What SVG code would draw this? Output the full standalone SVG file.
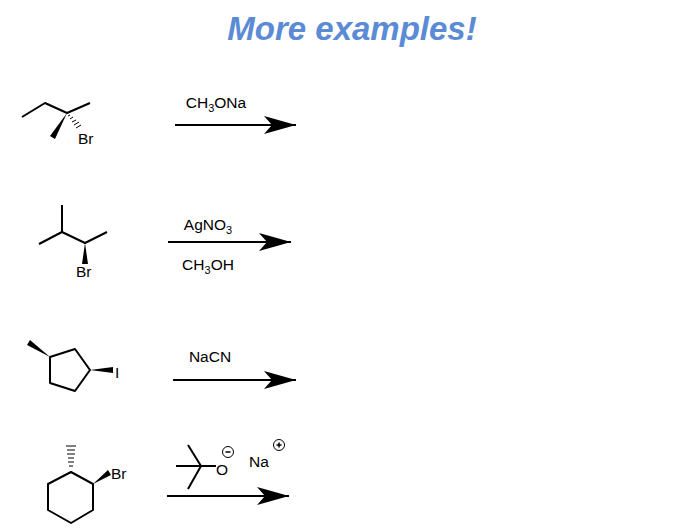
<svg xmlns="http://www.w3.org/2000/svg" width="700" height="531" viewBox="0 0 700 531">
<style>
.b{stroke:#000;stroke-width:2;fill:none;stroke-linejoin:round}
.t{font-family:"Liberation Sans",Arial,sans-serif;font-size:15.5px;fill:#000}
.s{font-size:11px}
.w{fill:#000}
</style>
<defs><marker id="ah" markerWidth="34" markerHeight="18" refX="32" refY="9" orient="auto" markerUnits="userSpaceOnUse"><path d="M0,0 L32,9 L0,18 L8,9 Z" fill="#000"/></marker></defs>
<rect width="700" height="531" fill="#fff"/>
<text x="352" y="40" text-anchor="middle" font-family="Liberation Sans,Arial,sans-serif" font-size="33" font-weight="bold" font-style="italic" fill="#5b8bd4">More examples!</text>
<g id="m1">
<polyline class="b" points="22,117 45,103 67,113 90,103"/>
<polygon class="w" points="67,113 50,136 55,139"/>
<path d="M68,116 l2,-1 M70,119 l3,-2 M72,122 l4,-2 M74,125 l5,-3 M76,128 l5,-3" stroke="#000" stroke-width="1"/>
<text class="t" x="78" y="144">Br</text>
</g>
<g id="m2">
<polyline class="b" points="39,244 62,232 85,243 107,232"/>
<line class="b" x1="62" y1="205" x2="62" y2="232"/>
<polygon class="w" points="85,243 82,264 88,264"/>
<text class="t" x="76" y="277">Br</text>
</g>
<g id="m3">
<polygon class="b" points="50,357 75,349 90,370 75,391 50,383"/>
<polygon class="w" points="50,357 27,345 30,340"/>
<polygon class="w" points="90,370 113,367 113,373"/>
<text class="t" x="115" y="378">I</text>
</g>
<g id="m4">
<polygon class="b" points="71,472 93,484 93,510 71,523 48,510 48,484"/>
<path d="M69,466 h4 M68,462 h6 M68,458 h6 M67,454 h8 M67,450 h8 M66,446 h10" stroke="#000" stroke-width="1"/>
<polygon class="w" points="93,484 108,470 111,475"/>
<text class="t" x="111" y="479">Br</text>
</g>
<g id="tbuo">
<polyline class="b" points="188,445 201,466 188,489"/>
<line class="b" x1="176" y1="466" x2="216" y2="466"/>
<text class="t" x="216" y="475">O</text>
<circle cx="228" cy="452" r="5.5" fill="none" stroke="#000" stroke-width="1"/>
<line x1="225.5" y1="452" x2="230.5" y2="452" stroke="#000" stroke-width="1.5"/>
<text class="t" x="249" y="467">Na</text>
<circle cx="279" cy="445" r="5.5" fill="none" stroke="#000" stroke-width="1"/>
<path d="M276.5,445 h5 M279,442.5 v5" stroke="#000" stroke-width="1.5"/>
</g>
<g id="connectors">
<line class="b" stroke-width="1.5" x1="175" y1="125" x2="296" y2="125" marker-end="url(#ah)"/>
<line class="b" stroke-width="1.5" x1="168" y1="242" x2="291" y2="242" marker-end="url(#ah)"/>
<line class="b" stroke-width="1.5" x1="173" y1="380" x2="296" y2="380" marker-end="url(#ah)"/>
<line class="b" stroke-width="1.5" x1="167" y1="496" x2="289" y2="496" marker-end="url(#ah)"/>
</g>
<g id="labels">
<text class="t" x="216" y="108" text-anchor="middle">CH<tspan class="s" dy="4">3</tspan><tspan dy="-4">ONa</tspan></text>
<text class="t" x="208" y="230" text-anchor="middle">AgNO<tspan class="s" dy="4">3</tspan></text>
<text class="t" x="208" y="270" text-anchor="middle">CH<tspan class="s" dy="4">3</tspan><tspan dy="-4">OH</tspan></text>
<text class="t" x="210" y="362" text-anchor="middle">NaCN</text>
</g>
</svg>
